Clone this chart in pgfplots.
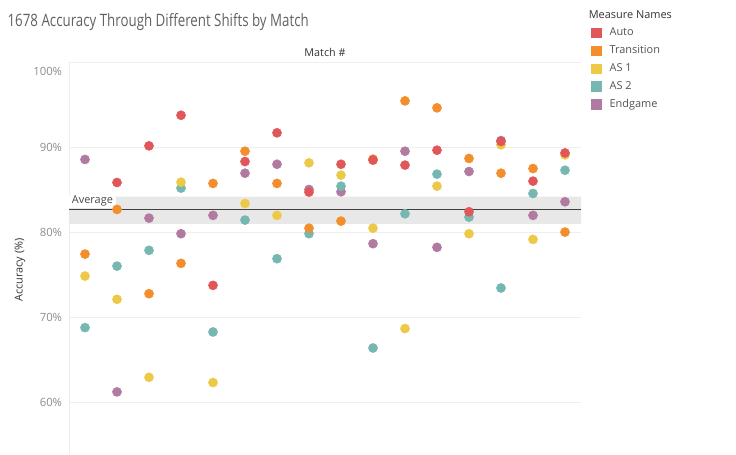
\documentclass[border=0pt]{standalone}
\usepackage{pgfplots}
\pgfplotsset{compat=1.18}
\usepackage{fontspec}
\setmainfont{Open Sans}
\newfontfamily\titlefont[FakeStretch=0.78]{Open Sans}
\definecolor{cAuto}{HTML}{E15759}
\definecolor{cTrans}{HTML}{F28E2B}
\definecolor{cAS1}{HTML}{EDC948}
\definecolor{cAS2}{HTML}{76B7B2}
\definecolor{cEnd}{HTML}{B07AA1}
\definecolor{gridc}{HTML}{EEEEEE}
\definecolor{bandc}{HTML}{E8E8E8}
\definecolor{ticktxt}{HTML}{8C8C8C}
\definecolor{labtxt}{HTML}{333333}
\begin{document}
\begin{tikzpicture}
\useasboundingbox (0,0) rectangle (552pt,340.5pt);
\begin{axis}[
  at={(51.75pt,0pt)}, anchor=south west,
  scale only axis, width=384pt, height=294pt,
  xmin=-0.5, xmax=15.5, ymin=54, ymax=100,
  axis line style={draw=none},
  xtick=\empty,
  ytick={60,70,80,90,100},
  yticklabels={60\%,70\%,80\%,90\%,},
  major tick length=0pt,
  ymajorgrids, grid style={gridc, line width=0.6pt},
  yticklabel style={font=\fontsize{8.5}{10}\selectfont, text=ticktxt, inner sep=0pt, xshift=-5pt},
  clip=false,
  legend style={at={(axis description cs:1.019,1.134)}, anchor=north west, draw=none, fill=none,
    font=\fontsize{8.2}{10}\selectfont, text=labtxt!85, inner sep=0pt, row sep=5.4pt,
    nodes={inner sep=0pt, text height=6.2pt, text depth=1.8pt},
    /tikz/every odd column/.append style={column sep=6.6pt}},
  legend cell align=left,
  legend image code/.code={\draw[mark repeat=2,mark phase=2,#1] plot coordinates {(0pt,0pt) (3.75pt,0pt) (7.5pt,0pt)};},
]
% left border line
\addplot[gridc, line width=0.6pt, forget plot] coordinates {(-0.5,54) (-0.5,100)};
% average band and line
\addplot[draw=none, fill=bandc, forget plot] coordinates {(-0.5,81.0) (15.5,81.0) (15.5,84.2) (-0.5,84.2)} \closedcycle;
\addplot[color=black!75, line width=1.1pt, forget plot] coordinates {(-0.5,82.66) (15.5,82.66)};

\addlegendimage{empty legend}
\addlegendentry{\hspace{-15.6pt}\textcolor{labtxt}{\fontsize{8.2}{10}\selectfont Measure Names}}

\addplot[only marks, mark=*, mark size=3.4pt, color=cEnd, forget plot] coordinates {
(0,88.56) (1,61.29) (2,81.68) (3,79.85) (4,82.0) (5,86.95) (6,88.0) (7,85.04)
(8,84.77) (9,78.68) (10,89.53) (11,78.25) (12,87.15) (13,90.78) (14,82.0) (15,83.6)};
\addplot[only marks, mark=*, mark size=3.4pt, color=cAS2, forget plot] coordinates {
(0,68.83) (1,76.05) (2,77.9) (3,85.2) (4,68.32) (5,81.45) (6,76.92) (7,79.85)
(8,85.43) (9,66.44) (10,82.19) (11,86.84) (12,81.8) (13,73.48) (14,84.57) (15,87.3)};
\addplot[only marks, mark=*, mark size=3.4pt, color=cAS1, forget plot] coordinates {
(0,74.88) (1,72.15) (2,63.0) (3,85.9) (4,62.39) (5,83.4) (6,82.0) (7,88.17)
(8,86.72) (9,80.5) (10,68.72) (11,85.43) (12,79.85) (13,90.28) (14,79.18) (15,89.1)};
\addplot[only marks, mark=*, mark size=3.4pt, color=cTrans, forget plot] coordinates {
(0,77.46) (1,82.7) (2,72.81) (3,76.37) (4,85.75) (5,89.53) (6,85.75) (7,80.5)
(8,81.33) (9,88.6) (10,95.44) (11,94.62) (12,88.68) (13,86.95) (14,87.5) (15,80.04)};
\addplot[only marks, mark=*, mark size=3.4pt, color=cAuto, forget plot] coordinates {
(1,85.86) (2,90.16) (3,93.75) (4,73.79) (5,88.32) (6,91.69) (7,84.73)
(8,88.0) (9,88.48) (10,87.9) (11,89.65) (12,82.43) (13,90.67) (14,86.02) (15,89.33)};

\addlegendimage{only marks, mark=square*, mark size=3.6pt, color=cAuto}
\addlegendentry{Auto}
\addlegendimage{only marks, mark=square*, mark size=3.6pt, color=cTrans}
\addlegendentry{Transition}
\addlegendimage{only marks, mark=square*, mark size=3.6pt, color=cAS1}
\addlegendentry{AS 1}
\addlegendimage{only marks, mark=square*, mark size=3.6pt, color=cAS2}
\addlegendentry{AS 2}
\addlegendimage{only marks, mark=square*, mark size=3.6pt, color=cEnd}
\addlegendentry{Endgame}

\node[anchor=south west, fill=white, inner xsep=2pt, inner ysep=1pt, text=labtxt!90, font=\fontsize{8.2}{10}\selectfont] at (axis cs:-0.5,82.85) {Average};
\node[anchor=east, inner sep=0pt, text=ticktxt, font=\fontsize{8.5}{10}\selectfont] at ([xshift=-5pt,yshift=-7.1pt]rel axis cs:0,1) {100\%};
\end{axis}
\node[anchor=west, inner sep=0pt, text=black!62, font=\titlefont\fontsize{12.8}{15}\selectfont] at (5.5pt,324pt) {1678 Accuracy Through Different Shifts by Match};
\node[inner sep=0pt, text=labtxt, font=\fontsize{8.1}{9}\selectfont] at (243.75pt,301.5pt) {Match \#};
\node[rotate=90, inner sep=0pt, text=labtxt, font=\fontsize{8.2}{9}\selectfont] at (15pt,138pt) {Accuracy (\%)};
\end{tikzpicture}
\end{document}
